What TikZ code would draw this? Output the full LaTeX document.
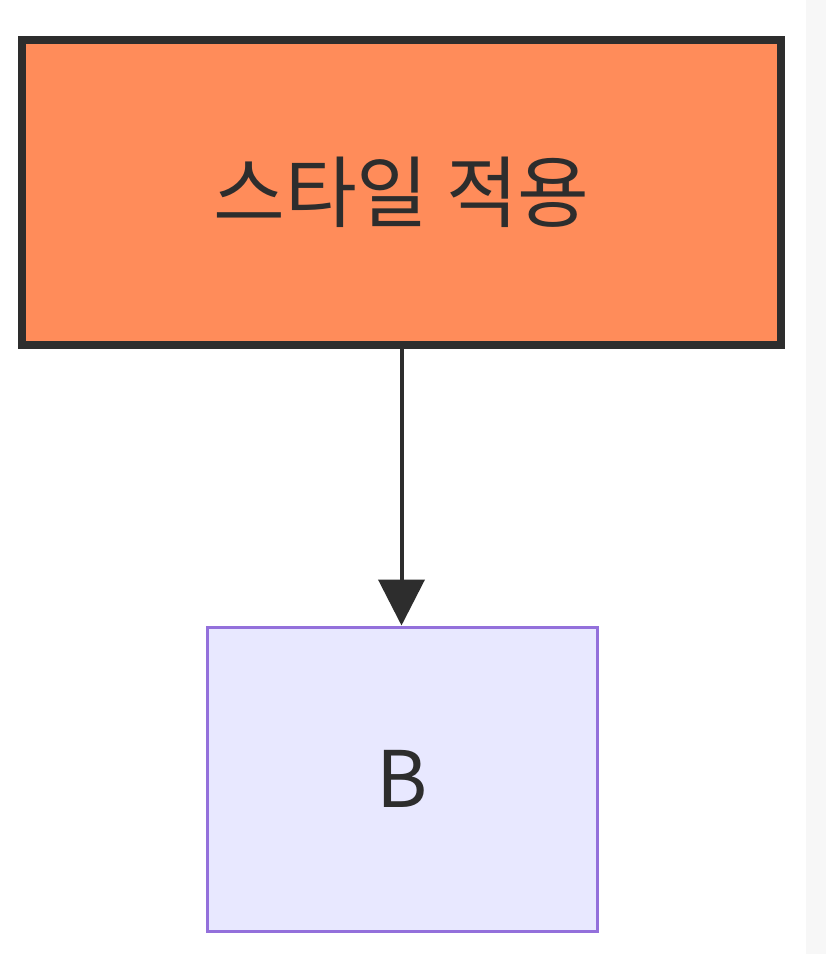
\documentclass[tikz,border=0pt]{standalone}
\usepackage{fontspec}
\newfontfamily\cjk{Noto Sans CJK KR}
\usetikzlibrary{arrows.meta}
\definecolor{orangefill}{HTML}{FF8C5A}
\definecolor{darkline}{HTML}{2D2D2D}
\definecolor{bfill}{HTML}{E8E8FF}
\definecolor{bline}{HTML}{9370DB}
\definecolor{strip}{HTML}{F7F7F7}
\begin{document}
\begin{tikzpicture}[x=1pt,y=-1pt,
  topbox/.style={draw=darkline,line width=8pt,fill=orangefill},
  botbox/.style={draw=bline,line width=3pt,fill=bfill},
  lbl/.style={text=darkline,font=\cjk\fontsize{78}{90}\selectfont}]
\useasboundingbox (0,0) rectangle (826,954);
\fill[white] (0,0) rectangle (826,954);
\fill[strip] (806,0) rectangle (826,954);
\draw[topbox] (22,40) rectangle (781,345);
\node[lbl] (a) at (401.5,192.5) {스타일 적용};
\coordinate (atop) at (401.5,349);
\draw[botbox] (207,627) rectangle (597,931);
\node[lbl] (b) at (402,779) {B};
\coordinate (bin) at (401.5,625.5);
\draw[darkline,line width=4pt,-{Triangle[length=46pt,width=46pt]}] (atop) -- (bin);
\end{tikzpicture}
\end{document}
